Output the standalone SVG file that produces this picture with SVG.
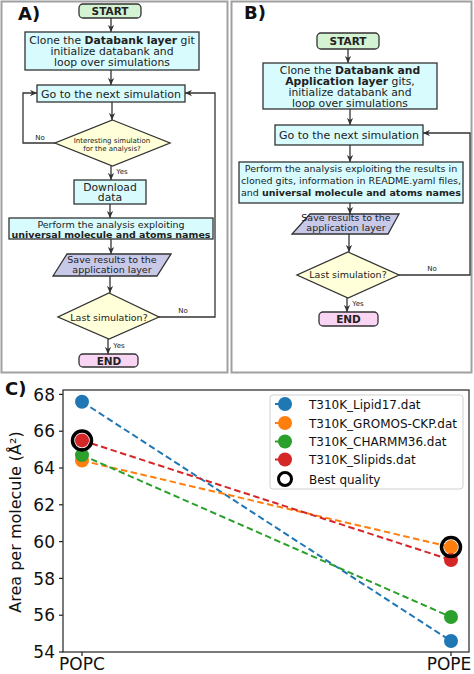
<svg xmlns="http://www.w3.org/2000/svg" width="474" height="674" viewBox="0 0 474 674">
<style>
.t{font-family:"DejaVu Sans","Liberation Sans",sans-serif;fill:#222;text-anchor:middle}
.b{font-weight:bold}
.panel{fill:#fff;stroke:#a0a0a0;stroke-width:2}
.start{fill:#d3f3d3;stroke:#333;stroke-width:1.3}
.proc{fill:#d8fbfe;stroke:#333;stroke-width:1.3}
.save{fill:#c8c8e8;stroke:#333;stroke-width:1.3}
.dec{fill:#ffffd9;stroke:#333;stroke-width:1.3}
.end{fill:#fad5f3;stroke:#333;stroke-width:1.3}
.c{fill:none;stroke:#333;stroke-width:1.3}
.p{font-family:"DejaVu Sans","Liberation Sans",sans-serif;fill:#111}
.d{fill:none;stroke-width:2;stroke-dasharray:6.5,3.5}
</style>
<defs>
<marker id="ar" viewBox="0 0 10 10" refX="10" refY="5" markerWidth="7" markerHeight="7" markerUnits="userSpaceOnUse" orient="auto">
<path d="M0,0.5 L10,5 L0,9.5 L3,5 z" fill="#333"/>
</marker>
</defs>
<rect width="474" height="674" fill="#fff"/>
<rect class="panel" x="1.5" y="1.5" width="226" height="371"/>
<rect class="panel" x="231.5" y="1.5" width="240" height="371"/>

<!-- Panel A -->
<text class="p b" x="18" y="20" font-size="18">A)</text>
<g id="a-start"><rect class="start" x="79" y="4" width="62" height="14" rx="4"/><text class="t b" x="110" y="15" font-size="10.5">START</text></g>
<g id="a-clone"><rect class="proc" x="25" y="32" width="174" height="38"/>
<text class="t" x="112" y="44.2" font-size="10.8">Clone the <tspan class="b">Databank layer</tspan> git</text>
<text class="t" x="112" y="55.2" font-size="10.8">initialize databank and</text>
<text class="t" x="112" y="66.2" font-size="10.8">loop over simulations</text></g>
<g id="a-next"><rect class="proc" x="37" y="85" width="148" height="17"/><text class="t" x="111" y="97.5" font-size="11">Go to the next simulation</text></g>
<g id="a-interesting"><polygon class="dec" points="112.5,120 170,143 112.5,166 55,143"/>
<text class="t" x="112" y="143" font-size="7">Interesting simulation</text>
<text class="t" x="112" y="150.5" font-size="7">for the analysis?</text></g>
<g id="a-download"><rect class="proc" x="74" y="180" width="72" height="24"/>
<text class="t" x="110" y="190.5" font-size="10.8">Download</text><text class="t" x="110" y="201.2" font-size="10.8">data</text></g>
<g id="a-perform"><rect class="proc" x="9" y="218" width="204" height="21"/>
<text class="t" x="111" y="227.5" font-size="9.5">Perform the analysis exploiting</text>
<text class="t b" x="111" y="237.5" font-size="9.5">universal molecule and atoms names</text></g>
<g id="a-save"><polygon class="save" points="67,254 171,254 157,276 53,276"/>
<text class="t" x="112" y="263" font-size="9.5">Save results to the</text>
<text class="t" x="112" y="272.7" font-size="9.5">application layer</text></g>
<g id="a-last"><polygon class="dec" points="109,293 159,317 109,339 58,317"/>
<text class="t" x="109" y="320.5" font-size="9.5">Last simulation?</text></g>
<g id="a-end"><rect class="end" x="79" y="354" width="59" height="13" rx="4"/><text class="t b" x="109" y="364.6" font-size="10.5">END</text></g>

<!-- Panel B -->
<text class="p b" x="244" y="19" font-size="18">B)</text>
<g id="b-start"><rect class="start" x="317" y="33" width="62" height="16" rx="4"/><text class="t b" x="348" y="45" font-size="10.5">START</text></g>
<g id="b-clone"><rect class="proc" x="263" y="63" width="174" height="46"/>
<text class="t" x="350" y="74" font-size="10.8">Clone the <tspan class="b">Databank and</tspan></text>
<text class="t" x="350" y="85" font-size="10.8"><tspan class="b">Application layer</tspan> gits,</text>
<text class="t" x="350" y="96" font-size="10.8">initialize databank and</text>
<text class="t" x="350" y="106.7" font-size="10.8">loop over simulations</text></g>
<g id="b-next"><rect class="proc" x="275" y="125" width="148" height="20"/><text class="t" x="349" y="138.5" font-size="11">Go to the next simulation</text></g>
<g id="b-perform"><rect class="proc" x="239" y="162" width="224" height="41"/>
<text class="t" x="351" y="172" font-size="9.5">Perform the analysis exploiting the results  in</text>
<text class="t" x="351" y="184" font-size="9.5">cloned gits, information in README.yaml files,</text>
<text class="t" x="351" y="196" font-size="9.5">and <tspan class="b">universal molecule and atoms names</tspan></text></g>
<g id="b-save"><polygon class="save" points="310,214 399,214 388,234 292,234"/>
<text class="t" x="346" y="221" font-size="9.5">Save results to the</text>
<text class="t" x="346" y="231" font-size="9.5">application layer</text></g>
<g id="b-last"><polygon class="dec" points="348,252 399,275 348,298 297,275"/>
<text class="t" x="348" y="278" font-size="9.5">Last simulation?</text></g>
<g id="b-end"><rect class="end" x="319" y="312" width="59" height="14" rx="4"/><text class="t b" x="348.5" y="323" font-size="10.5">END</text></g>

<g id="connectors">
<line class="c" x1="111" y1="18" x2="111" y2="32" marker-end="url(#ar)"/>
<line class="c" x1="111" y1="70" x2="111" y2="85" marker-end="url(#ar)"/>
<line class="c" x1="112" y1="102" x2="112" y2="120" marker-end="url(#ar)"/>
<line class="c" x1="111" y1="166" x2="111" y2="180" marker-end="url(#ar)"/>
<line class="c" x1="110" y1="204" x2="110" y2="218" marker-end="url(#ar)"/>
<line class="c" x1="111" y1="239" x2="111" y2="254" marker-end="url(#ar)"/>
<line class="c" x1="110" y1="276" x2="110" y2="293" marker-end="url(#ar)"/>
<line class="c" x1="108" y1="339" x2="108" y2="354" marker-end="url(#ar)"/>
<polyline class="c" points="55,143 23,143 23,93 37,93" marker-end="url(#ar)"/>
<polyline class="c" points="159,317 215,317 215,93 185,93" marker-end="url(#ar)"/>
<text class="t" x="40" y="140" font-size="7">No</text>
<text class="t" x="183" y="313" font-size="7">No</text>
<text class="t" x="122" y="174" font-size="7">Yes</text>
<text class="t" x="119" y="348" font-size="7">Yes</text>

<line class="c" x1="348" y1="49" x2="348" y2="63" marker-end="url(#ar)"/>
<line class="c" x1="350" y1="109" x2="350" y2="125" marker-end="url(#ar)"/>
<line class="c" x1="350" y1="145" x2="350" y2="162" marker-end="url(#ar)"/>
<line class="c" x1="350" y1="203" x2="350" y2="214" marker-end="url(#ar)"/>
<line class="c" x1="349" y1="234" x2="349" y2="252" marker-end="url(#ar)"/>
<line class="c" x1="347" y1="298" x2="347" y2="312" marker-end="url(#ar)"/>
<polyline class="c" points="399,275 470,275 470,133 423,133" marker-end="url(#ar)"/>
<text class="t" x="432" y="271" font-size="7">No</text>
<text class="t" x="358" y="306" font-size="7">Yes</text>
</g>

<!-- Panel C -->
<text class="p b" x="5" y="395" font-size="18">C)</text>
<g id="plot">
<rect x="63" y="390" width="406" height="262" fill="#fff" stroke="#222" stroke-width="1.2"/>
<g stroke="#222" stroke-width="1.2">
<line x1="59" y1="394.4" x2="63" y2="394.4"/><line x1="59" y1="431.2" x2="63" y2="431.2"/>
<line x1="59" y1="468" x2="63" y2="468"/><line x1="59" y1="504.8" x2="63" y2="504.8"/>
<line x1="59" y1="541.6" x2="63" y2="541.6"/><line x1="59" y1="578.4" x2="63" y2="578.4"/>
<line x1="59" y1="615.2" x2="63" y2="615.2"/><line x1="59" y1="652" x2="63" y2="652"/>
<line x1="82" y1="652" x2="82" y2="656"/><line x1="451" y1="652" x2="451" y2="656"/>
</g>
<g class="p" font-size="17" text-anchor="end">
<text x="55" y="400.5">68</text><text x="55" y="437.3">66</text><text x="55" y="474.1">64</text>
<text x="55" y="510.9">62</text><text x="55" y="547.7">60</text><text x="55" y="584.5">58</text>
<text x="55" y="621.3">56</text><text x="55" y="658.1">54</text>
</g>
<g class="p" font-size="17" text-anchor="middle">
<text x="82" y="670">POPC</text><text x="449" y="670">POPE</text>
</g>
<text class="p" font-size="16" text-anchor="middle" transform="translate(21,522) rotate(-90)">Area per molecule (Å²)</text>

<line class="d" stroke="#1f77b4" x1="82" y1="401.8" x2="451" y2="641"/>
<circle cx="82" cy="401.8" r="7" fill="#1f77b4"/><circle cx="451" cy="641" r="7" fill="#1f77b4"/>
<line class="d" stroke="#ff7f0e" x1="82" y1="460.6" x2="451" y2="547.1"/>
<circle cx="82" cy="460.6" r="7" fill="#ff7f0e"/><circle cx="451" cy="547.1" r="7" fill="#ff7f0e"/>
<line class="d" stroke="#2ca02c" x1="82" y1="455.1" x2="451" y2="617"/>
<circle cx="82" cy="455.1" r="7" fill="#2ca02c"/><circle cx="451" cy="617" r="7" fill="#2ca02c"/>
<line class="d" stroke="#d62728" x1="82" y1="440.4" x2="451" y2="560"/>
<circle cx="82" cy="440.4" r="7" fill="#d62728"/><circle cx="451" cy="560" r="7" fill="#d62728"/>
<circle cx="82" cy="440.4" r="9.5" fill="none" stroke="#000" stroke-width="3.5"/>
<circle cx="451" cy="547.1" r="9.5" fill="none" stroke="#000" stroke-width="3.5"/>

<g id="legend">
<rect x="270" y="395" width="193" height="94" rx="3" fill="#fff" fill-opacity="0.85" stroke="#d0d0d0"/>
<line x1="275" y1="404" x2="295" y2="404" stroke="#1f77b4" stroke-width="2" stroke-dasharray="6.5,3.5"/><circle cx="285" cy="404" r="7" fill="#1f77b4"/>
<line x1="275" y1="423" x2="295" y2="423" stroke="#ff7f0e" stroke-width="2" stroke-dasharray="6.5,3.5"/><circle cx="285" cy="423" r="7" fill="#ff7f0e"/>
<line x1="275" y1="441.5" x2="295" y2="441.5" stroke="#2ca02c" stroke-width="2" stroke-dasharray="6.5,3.5"/><circle cx="285" cy="441.5" r="7" fill="#2ca02c"/>
<line x1="275" y1="459.5" x2="295" y2="459.5" stroke="#d62728" stroke-width="2" stroke-dasharray="6.5,3.5"/><circle cx="285" cy="459.5" r="7" fill="#d62728"/>
<circle cx="285" cy="479" r="6.5" fill="none" stroke="#000" stroke-width="3"/>
<g class="p" font-size="12">
<text x="309" y="408.5">T310K_Lipid17.dat</text>
<text x="309" y="427.5">T310K_GROMOS-CKP.dat</text>
<text x="309" y="446">T310K_CHARMM36.dat</text>
<text x="309" y="464">T310K_Slipids.dat</text>
<text x="309" y="483.5">Best quality</text>
</g>
</g>
</g>
</svg>
